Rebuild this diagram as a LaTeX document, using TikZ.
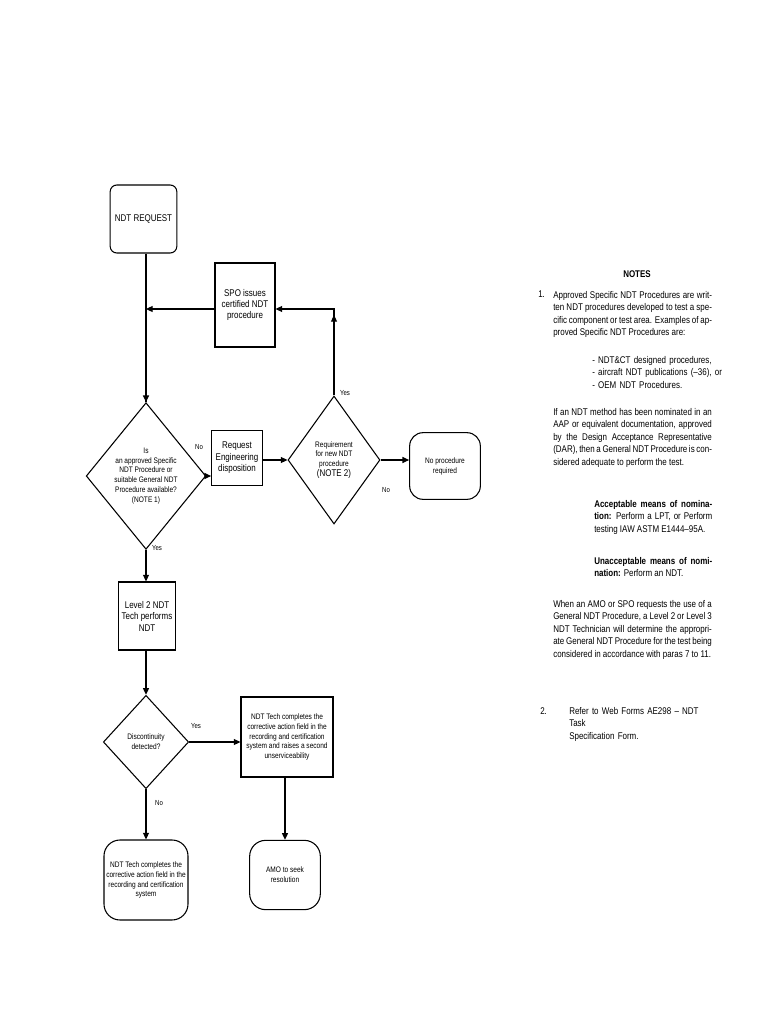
\documentclass[tikz,border=0pt]{standalone}
\usepackage{fontspec}
\setmainfont{Liberation Sans}[FakeStretch=0.82]
\usetikzlibrary{arrows.meta,shapes.geometric}
\begin{document}
\begin{tikzpicture}[x=0.75pt,y=-0.75pt,
  every node/.style={font=\fontsize{6}{7.4}\selectfont,align=center,inner sep=1pt},
  arr/.style={thick,-{Triangle[length=5pt,width=4.5pt]}},
  lbl/.style={font=\fontsize{5.5}{6.5}\selectfont},
  big/.style={font=\fontsize{7.3}{8.6}\selectfont},
  note/.style={font=\fontsize{7.3}{9.4}\selectfont,align=justify,anchor=north west,inner sep=0pt}]
\useasboundingbox (0,0) rectangle (768,1024);
% boxes
\node[draw,thick,rounded corners=5pt,minimum width=50pt,minimum height=51pt,big] (req) at (143.5,219) {NDT REQUEST};
\node[draw,thick,minimum width=45pt,minimum height=63pt,big] (spo) at (245,305) {SPO issues\\certified NDT\\procedure};
\node[draw,thick,diamond,minimum width=80pt,minimum height=110pt,inner sep=0pt] (d1) at (146,476) {Is\\an approved Specific\\NDT Procedure or\\suitable General NDT\\Procedure  available?\\(NOTE 1)};
\node[draw,thick,minimum width=38pt,minimum height=41pt,big] (eng) at (237,458) {Request\\Engineering\\disposition};
\node[draw,thick,diamond,minimum width=69pt,minimum height=96pt,inner sep=0pt] (d2) at (334,460) {Requirement\\for new NDT\\procedure\\{\fontsize{7.3}{8.6}\selectfont(NOTE 2)}};
\node[draw,thick,rounded corners=10pt,minimum width=53pt,minimum height=50pt] (nop) at (445,466) {No procedure\\required};
\node[draw,thick,minimum width=43pt,minimum height=51pt,big] (lvl) at (147,616) {Level 2 NDT\\Tech performs\\NDT};
\node[draw,thick,diamond,minimum width=64pt,minimum height=70pt,inner sep=0pt] (d3) at (146,742) {Discontinuity\\detected?};
\node[draw,thick,minimum width=69pt,minimum height=60pt] (tech) at (287,737) {NDT Tech completes the\\corrective action field in the\\recording and certification\\system and raises a second\\unserviceability};
\node[draw,thick,rounded corners=12pt,minimum width=63pt,minimum height=60pt] (fin) at (146,880) {NDT Tech completes the\\corrective action field in the\\recording and certification\\system};
\node[draw,thick,rounded corners=12pt,minimum width=53pt,minimum height=52pt] (amo) at (285,875) {AMO to seek\\resolution};
% connectors
\coordinate (j1) at (146,309);
\coordinate (j2) at (334,309);
\coordinate (j3) at (334,315);
\draw[thick] (req.south -| 146,0) -- (d1.north);
\draw[arr] (146,390) -- (d1.north);
\draw[arr] (spo.west |- j1) -- (j1);
\draw[arr] (d2.north) -- (j2) -- (spo.east |- j2);
\draw[arr] (d2.north) -- (j3);
\draw[arr] (d1.east) -- (eng.west |- d1.east);
\draw[arr] (eng.east |- d2.west) -- (d2.west);
\draw[arr] (d2.east) -- (nop.west |- d2.east);
\draw[arr] (d1.south) -- (lvl.north -| d1.south);
\draw[arr] (lvl.south -| d3.north) -- (d3.north);
\draw[arr] (d3.east) -- (tech.west |- d3.east);
\draw[arr] (d3.south) -- (fin.north -| d3.south);
\draw[arr] (tech.south -| amo.north) -- (amo.north);
% labels
\node[lbl] at (345,393) {Yes};
\node[lbl] at (199,447) {No};
\node[lbl] at (386,490) {No};
\node[lbl] at (157,548) {Yes};
\node[lbl] at (196,726) {Yes};
\node[lbl] at (159,803) {No};
% notes
\node[font=\fontsize{7.3}{9}\selectfont\bfseries] at (637,274) {NOTES};
\node[note] at (538,291) {1.};
\node[note,text width=119pt] at (553,291) {Approved Specific NDT Procedures are written NDT procedures developed to test a specific component or test area. Examples of approved Specific NDT Procedures are:};
\node[note,align=left,text width=100pt] at (592,356) {- NDT\&CT designed procedures,\\- aircraft NDT publications (--36), or\\- OEM NDT Procedures.};
\node[note,text width=119pt] at (553,408) {If an NDT method has been nominated in an AAP or equivalent documentation, approved by the Design Acceptance Representative (DAR), then a General NDT Procedure is considered adequate to perform the test.};
\node[note,text width=88.5pt] at (594,500) {\textbf{Acceptable means of nomination:} Perform a LPT, or Perform testing IAW ASTM E1444--95A.};
\node[note,text width=88.5pt] at (594,557) {\textbf{Unacceptable means of nomination:} Perform an NDT.};
\node[note,text width=119pt] at (553,600) {When an AMO or SPO requests the use of a General NDT Procedure, a Level 2 or Level 3 NDT Technician will determine the appropriate General NDT Procedure for the test being considered in accordance with paras 7 to 11.};
\node[note] at (540,707) {2.};
\node[note,align=left,text width=110pt] at (569,707) {Refer to Web Forms AE298 -- NDT Task\\Specification Form.};
\end{tikzpicture}
\end{document}
